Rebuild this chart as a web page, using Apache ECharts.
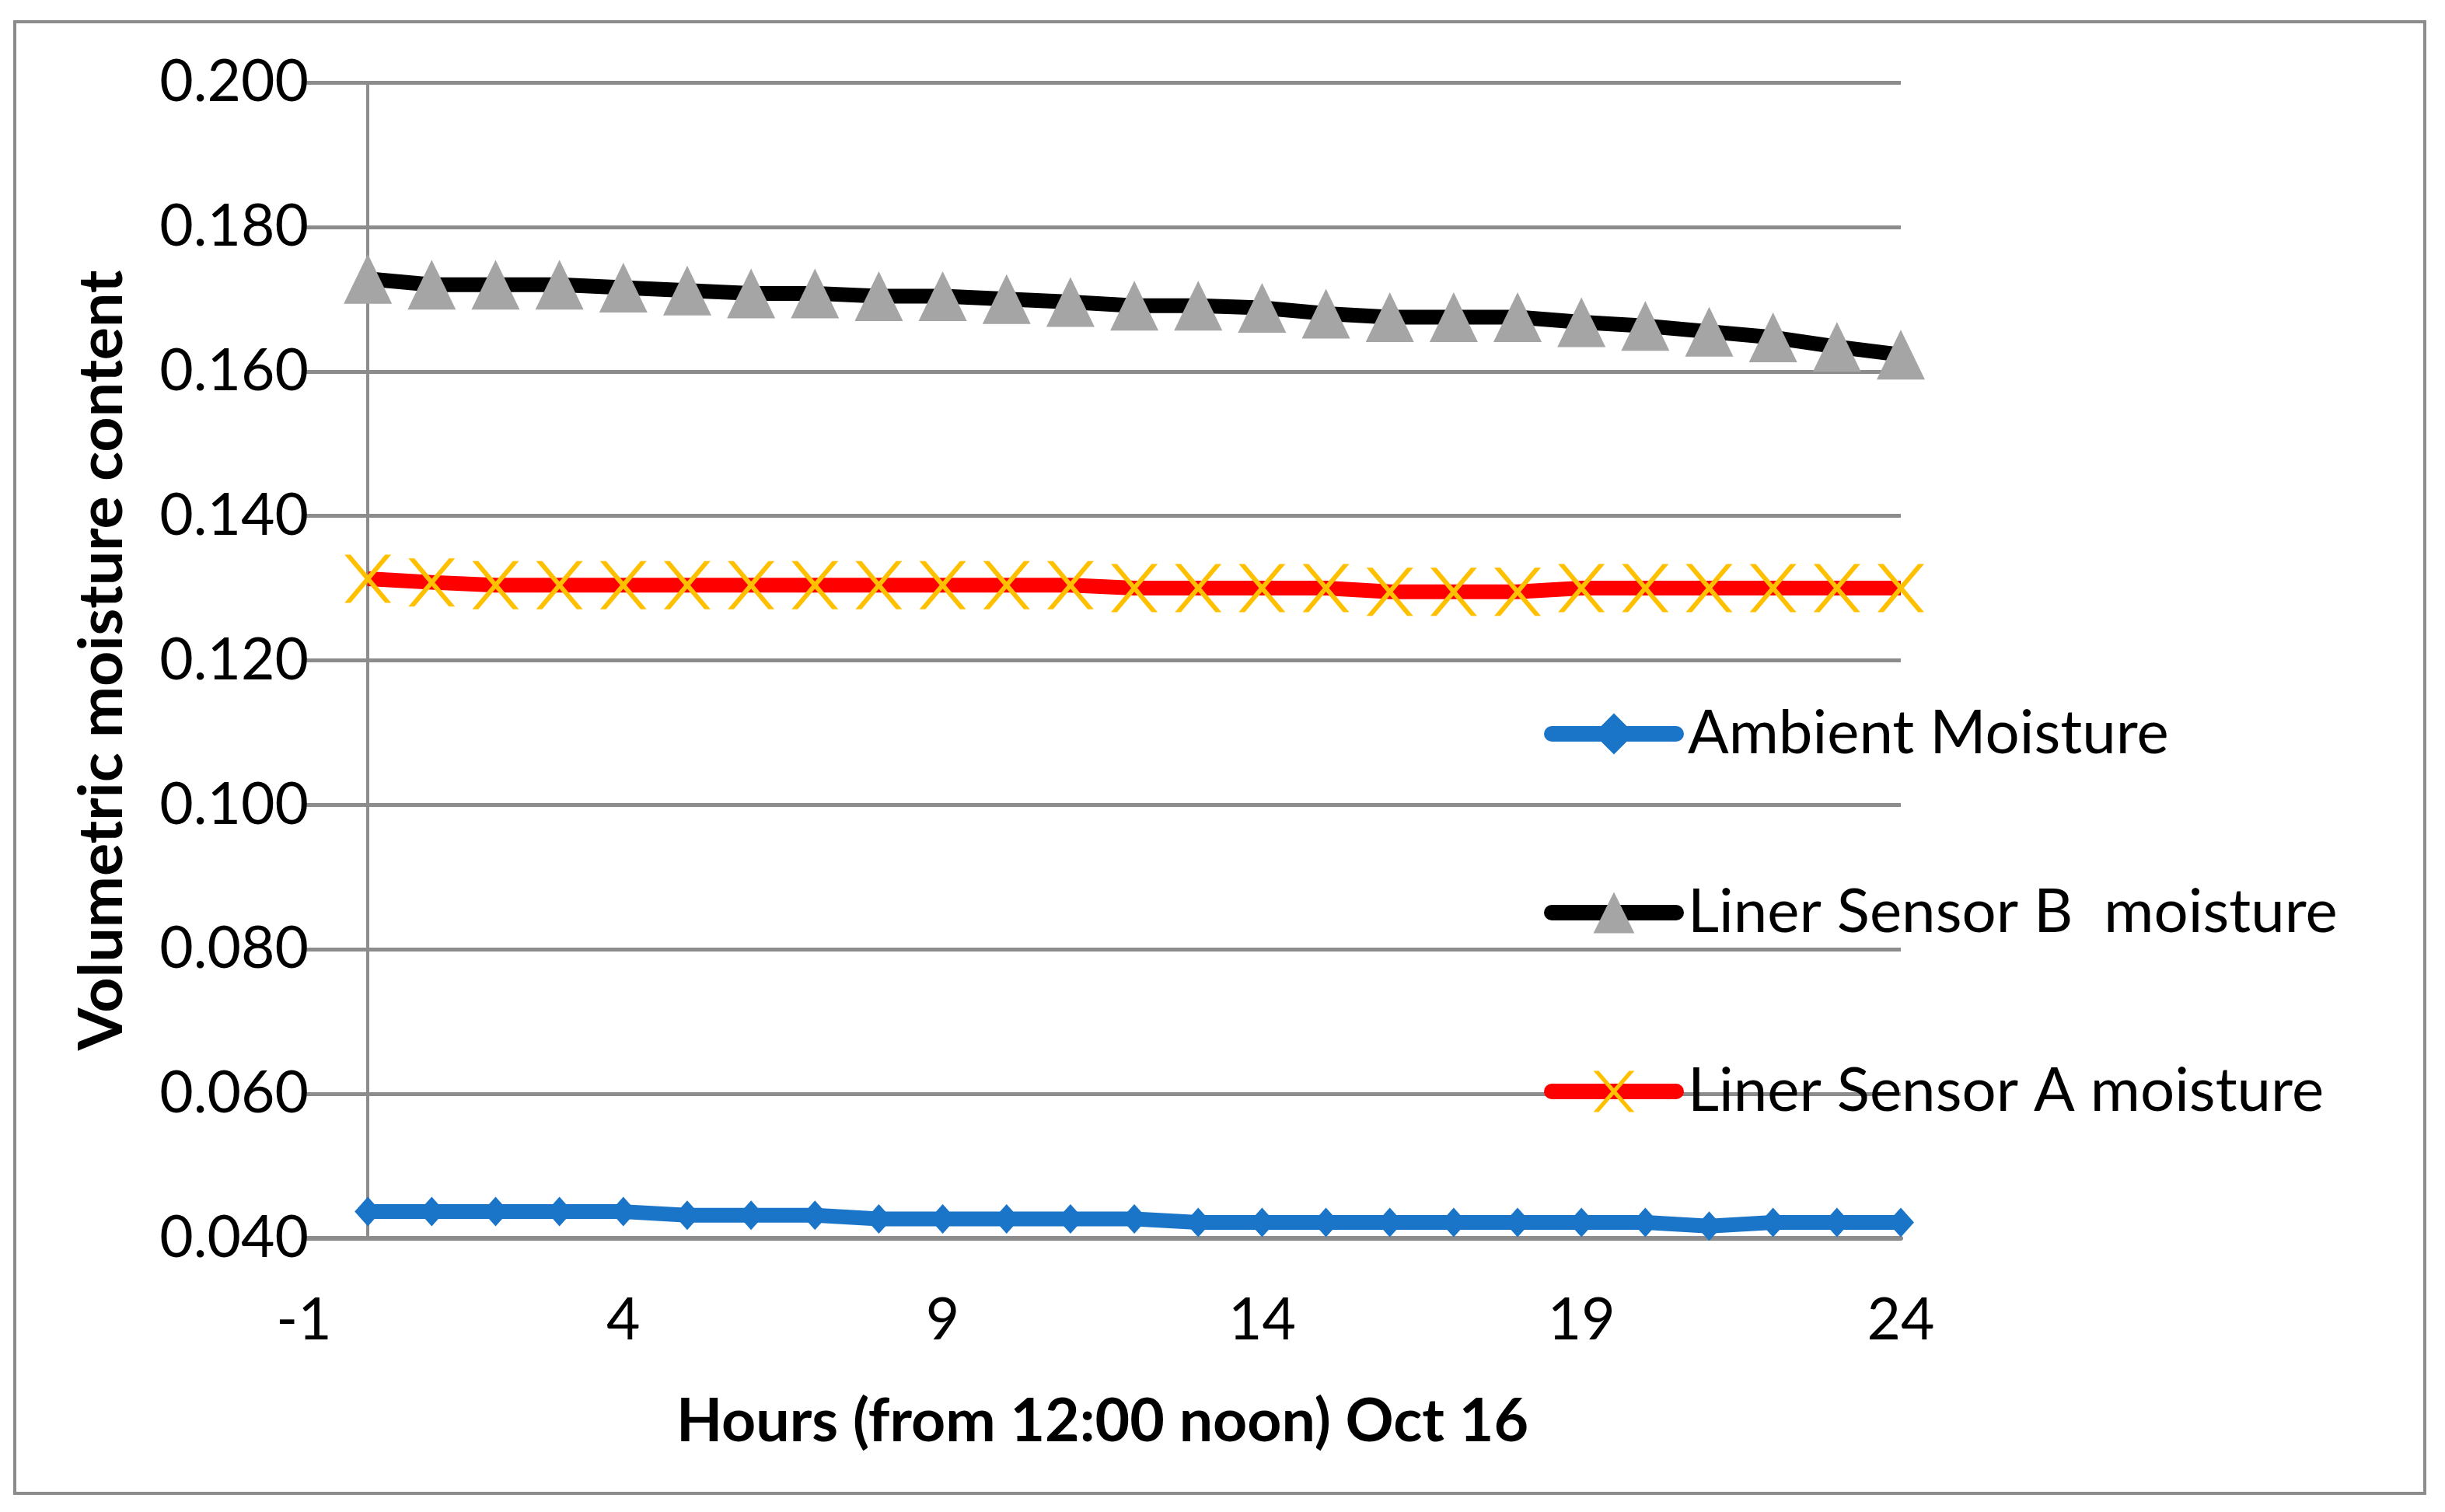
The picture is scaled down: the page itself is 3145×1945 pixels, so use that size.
<!DOCTYPE html>
<html>
<head>
<meta charset="utf-8">
<script src="https://cdn.jsdelivr.net/npm/echarts@6/dist/echarts.min.js"></script>
<style>
html,body{margin:0;padding:0;background:#fff;}
#chart{width:3145px;height:1945px;}
</style>
</head>
<body>
<div id="chart"></div>
<script>
var hours = [0,1,2,3,4,5,6,7,8,9,10,11,12,13,14,15,16,17,18,19,20,21,22,23,24];
var ambient = [0.0437,0.0437,0.0437,0.0437,0.0437,0.0432,0.0432,0.0432,0.0427,0.0427,0.0427,0.0427,0.0427,0.0422,0.0422,0.0422,0.0422,0.0422,0.0422,0.0422,0.0422,0.0417,0.0422,0.0422,0.0422];
var sensorB = [0.1728,0.1720,0.1720,0.1720,0.1716,0.1712,0.1708,0.1708,0.1704,0.1704,0.1700,0.1696,0.1691,0.1691,0.1688,0.1680,0.1675,0.1675,0.1675,0.1668,0.1663,0.1655,0.1647,0.1634,0.1623];
var sensorA = [0.1313,0.1308,0.1304,0.1304,0.1304,0.1304,0.1304,0.1304,0.1304,0.1304,0.1304,0.1304,0.1300,0.1300,0.1300,0.1300,0.1295,0.1295,0.1295,0.1300,0.1300,0.1300,0.1300,0.1300,0.1300];
var seriesNames = ['Ambient Moisture', 'Liner Sensor B  moisture', 'Liner Sensor A moisture'];
var xTitle = 'Hours (from 12:00 noon) Oct 16';
var yTitle = 'Volumetric moisture content';

function pairs(vals){ return hours.map(function(h,i){ return [h, vals[i]]; }); }

var FONT = 'Lato';
var GRID_GRAY = '#8c8c8c';
var X_SYMBOL = 'path://M0,0 L1.3,0 L10,10 L8.7,10 Z M8.7,0 L10,0 L1.3,10 L0,10 Z';

var chart = echarts.init(document.getElementById('chart'), null, {renderer:'canvas'});
chart.setOption({
  animation: false,
  backgroundColor: '#ffffff',
  graphic: [{
    type: 'rect', z: -1,
    shape: {x: 19, y: 28, width: 3100, height: 1893},
    style: {fill: 'none', stroke: GRID_GRAY, lineWidth: 4}
  }],
  grid: {left: 391, right: 700, top: 106, bottom: 352, containLabel: false},
  legend: {
    orient: 'vertical',
    left: 1981, top: 900,
    itemWidth: 160, itemHeight: 66, itemGap: 152,
    data: seriesNames,
    textStyle: {fontFamily: FONT, fontSize: 78, color: '#000', lineHeight: 66, padding: [0,0,0,10]},
    lineStyle: {width: 20, cap: 'round'},
    itemStyle: {borderWidth: 0}
  },
  xAxis: {
    type: 'value', min: -1, max: 24, interval: 5,
    name: xTitle, nameLocation: 'middle', nameGap: 198,
    nameTextStyle: {fontFamily: FONT, fontSize: 77, fontWeight: 'bold', color: '#000'},
    axisLine: {show: true, onZero: false, lineStyle: {color: GRID_GRAY, width: 6}},
    axisTick: {show: false},
    splitLine: {show: false},
    axisLabel: {fontFamily: FONT, fontSize: 75, color: '#000', margin: 68}
  },
  yAxis: {
    type: 'value', min: 0.04, max: 0.2, interval: 0.02,
    name: yTitle, nameLocation: 'middle', nameGap: 220, nameRotate: 90,
    nameTextStyle: {fontFamily: FONT, fontSize: 79, fontWeight: 'bold', color: '#000'},
    axisLine: {show: false},
    axisTick: {show: false},
    splitLine: {show: true, lineStyle: {color: GRID_GRAY, width: 5}},
    axisLabel: {fontFamily: FONT, fontSize: 75, color: '#000', margin: -6,
      formatter: function(v){ return v.toFixed(3); }}
  },
  series: [
    {
      name: seriesNames[0], type: 'line', data: pairs(ambient),
      symbol: 'diamond', symbolSize: [34, 38],
      lineStyle: {color: '#1a75c9', width: 19, join: 'round'},
      itemStyle: {color: '#1a75c9', borderWidth: 0},
      z: 3,
      markLine: {
        silent: true, symbol: ['none','none'], z: 1,
        label: {show: false},
        lineStyle: {color: GRID_GRAY, width: 4, type: 'solid'},
        emphasis: {disabled: true},
        data: [{xAxis: 0}]
      }
    },
    {
      name: seriesNames[1], type: 'line', data: pairs(sensorB),
      symbol: 'triangle', symbolSize: [62, 64],
      lineStyle: {color: '#000000', width: 19, join: 'round'},
      itemStyle: {color: '#a5a5a5', borderWidth: 0},
      z: 3
    },
    {
      name: seriesNames[2], type: 'line', data: pairs(sensorA),
      symbol: X_SYMBOL, symbolSize: [60, 62],
      lineStyle: {color: '#ff0000', width: 19, join: 'round'},
      itemStyle: {color: '#ffc000', borderWidth: 0},
      z: 3
    }
  ]
});
</script>
</body>
</html>
